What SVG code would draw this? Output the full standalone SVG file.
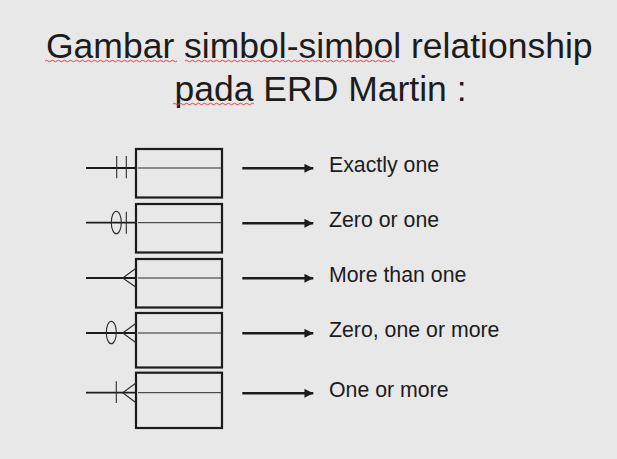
<svg xmlns="http://www.w3.org/2000/svg" width="617" height="459" viewBox="0 0 617 459">
<defs>
<style>
.bg{fill:#e8e8e8}
.title{font-family:"Liberation Sans",Arial,sans-serif;font-size:35.5px;fill:#1c1c1c}
.lbl{font-family:"Liberation Sans",Arial,sans-serif;font-size:21.3px;fill:#1c1c1c}
.box{fill:none;stroke:#1c1c1c;stroke-width:2.2}
.rel{fill:none;stroke:#1c1c1c;stroke-width:1.8}
.thin{fill:none;stroke:#2a2a2a;stroke-width:1}
.sym{fill:none;stroke:#2a2a2a;stroke-width:1.1}
.arr{fill:none;stroke:#1c1c1c;stroke-width:2.6}
.sq{fill:none;stroke:#e04040;stroke-width:1}
</style>
<marker id="ah" viewBox="0 0 10 10" refX="10" refY="5" markerWidth="4" markerHeight="3.4" orient="auto" markerUnits="strokeWidth">
<path d="M0,0 L10,5 L0,10 Z" fill="#1c1c1c"/>
</marker>
</defs>
<rect class="bg" x="0" y="0" width="617" height="459"/>
<g id="title">
<text class="title" x="46" y="58.3">Gambar simbol-simbol relationship</text>
<text class="title" x="174.5" y="101">pada ERD Martin :</text>
<path class="sq" d="M45,61 q1.5,-1.5 3,0 t3,0 t3,0 t3,0 t3,0 t3,0 t3,0 t3,0 t3,0 t3,0 t3,0 t3,0 t3,0 t3,0 t3,0 t3,0 t3,0 t3,0 t3,0 t3,0 t3,0 t3,0 t3,0 t3,0 t3,0 t3,0 t3,0 t3,0 t3,0 t3,0 t3,0 t3,0 t3,0 t3,0 t3,0 t3,0 t3,0 t3,0 t3,0 t3,0 t3,0 t3,0 t3,0 t3,0"/>
<path class="sq" d="M185,61 q1.5,-1.5 3,0 t3,0 t3,0 t3,0 t3,0 t3,0 t3,0 t3,0 t3,0 t3,0 t3,0 t3,0 t3,0 t3,0 t3,0 t3,0 t3,0 t3,0 t3,0 t3,0 t3,0 t3,0 t3,0 t3,0 t3,0 t3,0 t3,0 t3,0 t3,0 t3,0 t3,0 t3,0 t3,0 t3,0 t3,0 t3,0 t3,0 t3,0 t3,0 t3,0 t3,0 t3,0 t3,0 t3,0 t3,0 t3,0 t3,0 t3,0 t3,0 t3,0 t3,0 t3,0 t3,0 t3,0 t3,0 t3,0 t3,0 t3,0 t3,0 t3,0 t3,0 t3,0 t3,0 t3,0 t3,0 t3,0 t3,0 t3,0 t3,0 t3,0"/>
<path class="sq" d="M173,104 q1.5,-1.5 3,0 t3,0 t3,0 t3,0 t3,0 t3,0 t3,0 t3,0 t3,0 t3,0 t3,0 t3,0 t3,0 t3,0 t3,0 t3,0 t3,0 t3,0 t3,0 t3,0 t3,0 t3,0 t3,0 t3,0 t3,0 t3,0 t3,0"/>
</g>
<g id="node-exactly-one">
<rect class="box" x="136" y="149" width="86" height="48.5"/>
<line class="thin" x1="138" y1="168" x2="222" y2="168"/>
<line class="rel" x1="86" y1="168" x2="136" y2="168"/>
<line class="sym" x1="116.7" y1="156" x2="116.7" y2="178.3"/>
<line class="sym" x1="126.3" y1="156" x2="126.3" y2="178.3"/>
</g>
<g id="node-zero-or-one">
<rect class="box" x="136" y="204" width="86" height="48.5"/>
<line class="thin" x1="138" y1="222.7" x2="222" y2="222.7"/>
<line class="rel" x1="86" y1="222.7" x2="136" y2="222.7"/>
<ellipse class="sym" cx="116.3" cy="222.5" rx="5" ry="11.3"/>
<line class="sym" x1="126.3" y1="211.7" x2="126.3" y2="233.7"/>
</g>
<g id="node-more-than-one">
<rect class="box" x="136" y="259" width="86" height="48.5"/>
<line class="thin" x1="138" y1="278" x2="222" y2="278"/>
<line class="rel" x1="86" y1="278" x2="136" y2="278"/>
<polyline class="sym" points="136,268.3 122.7,278 136,287.3"/>
</g>
<g id="node-zero-one-or-more">
<rect class="box" x="136" y="313" width="86" height="54.5"/>
<line class="thin" x1="138" y1="333" x2="222" y2="333"/>
<line class="rel" x1="86" y1="333" x2="136" y2="333"/>
<ellipse class="sym" cx="111.3" cy="332.5" rx="5" ry="11.2"/>
<polyline class="sym" points="136,323.3 122.7,333 136,342.7"/>
</g>
<g id="node-one-or-more">
<rect class="box" x="136" y="372.7" width="86" height="55.3"/>
<line class="thin" x1="138" y1="392.7" x2="222" y2="392.7"/>
<line class="rel" x1="86" y1="392.7" x2="136" y2="392.7"/>
<line class="sym" x1="116.3" y1="381.3" x2="116.3" y2="403"/>
<polyline class="sym" points="136,383 122.7,392.7 136,402.7"/>
</g>
<g id="connectors">
<line class="arr" x1="242.3" y1="168.3" x2="313.3" y2="168.3" marker-end="url(#ah)"/>
<line class="arr" x1="242.3" y1="223.3" x2="313.3" y2="223.3" marker-end="url(#ah)"/>
<line class="arr" x1="242.3" y1="278.3" x2="313.3" y2="278.3" marker-end="url(#ah)"/>
<line class="arr" x1="242.3" y1="333.3" x2="313.3" y2="333.3" marker-end="url(#ah)"/>
<line class="arr" x1="242.3" y1="393.3" x2="313.3" y2="393.3" marker-end="url(#ah)"/>
</g>
<g id="labels">
<text class="lbl" x="329" y="172.3">Exactly one</text>
<text class="lbl" x="329" y="227.3">Zero or one</text>
<text class="lbl" x="329" y="282.3">More than one</text>
<text class="lbl" x="329" y="337.3">Zero, one or more</text>
<text class="lbl" x="329" y="397.3">One or more</text>
</g>
</svg>
